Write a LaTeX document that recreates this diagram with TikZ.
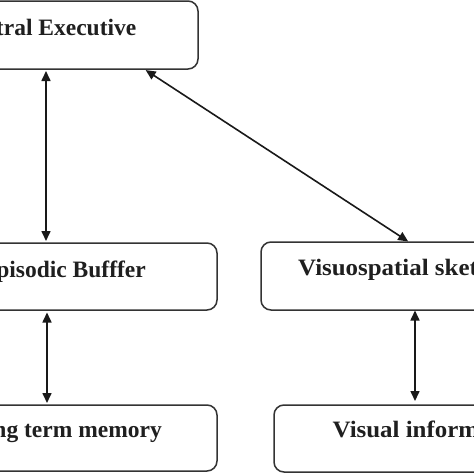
\documentclass[tikz,border=0pt]{standalone}
\usepackage{fontspec}
\setmainfont{Liberation Serif}
\usetikzlibrary{arrows.meta}
\newcommand{\wide}[1]{\scalebox{1.06}[1]{#1}}
\begin{document}
\begin{tikzpicture}[x=1pt,y=-1pt,
  box/.style={draw=black!80, line width=1.5pt, rounded corners=10pt, inner sep=0pt, outer sep=0pt, fill=white},
  lbl/.style={inner sep=0pt, font=\fontsize{23.5}{28}\bfseries\selectfont, text=black!88},
  arr/.style={line width=1.6pt, black!90, {Triangle[length=10pt,width=9pt]}-{Triangle[length=10pt,width=9pt]}}]
\useasboundingbox (0,0) rectangle (474,474);
\clip (0,0) rectangle (474,474);
\fill[white] (0,0) rectangle (474,474);
% boxes
\node[box, minimum width=299pt, minimum height=68pt] (ce) at (48.5,35) {};
\node[box, minimum width=304pt, minimum height=67pt] (eb) at (65,276.5) {};
\node[box, minimum width=304pt, minimum height=66pt] (ltm) at (65,438) {};
\node[box, minimum width=303pt, minimum height=68pt] (vs) at (412.5,276) {};
\node[box, minimum width=306pt, minimum height=67pt] (vi) at (427,438.5) {};
% labels
\node[lbl, anchor=base east] (cet) at (136.5,35) {Central Executive};
\node[lbl, anchor=base east] (ebt) at (146,277) {Episodic Bufffer};
\node[lbl, anchor=base east] (ltmt) at (162,437) {Long term memory};
\node[lbl, anchor=base west] (vst) at (298,275.5) {\wide{Visuospatial sketchpad}};
\node[lbl, anchor=base west] (vit) at (332.5,437.5) {\wide{Visual information}};
% connectors
\draw[arr, shorten <=2pt, shorten >=2pt] ([xshift=-19pt]eb.north) -- ([xshift=-2.5pt]ce.south);
\draw[arr, shorten <=2pt, shorten >=1pt] ([xshift=95.5pt]ce.south) -- ([xshift=-3.5pt]vs.north);
\draw[arr, shorten <=2.5pt, shorten >=2pt] ([xshift=-18pt]eb.south) -- ([xshift=-18pt]ltm.north);
\draw[arr, shorten <=0.5pt, shorten >=4pt] ([xshift=2.5pt]vs.south) -- ([xshift=-12pt]vi.north);
\end{tikzpicture}
\end{document}
